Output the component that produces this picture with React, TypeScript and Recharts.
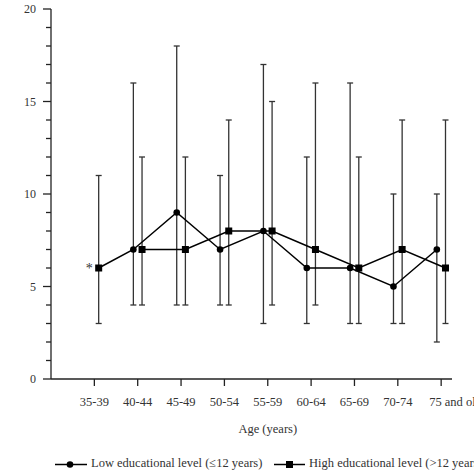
import React from 'react'
import { ScatterChart, Scatter, XAxis, YAxis, ErrorBar, ReferenceDot } from 'recharts'

// age groups, placed at positions 1..9 on a numeric x axis
const ageGroups = ['35-39', '40-44', '45-49', '50-54', '55-59', '60-64', '65-69', '70-74', '75 and older']

// low educational level (<=12 years); first point (35-39) is the starred one
const lowMean = [6, 7, 9, 7, 8, 6, 6, 5, 7]
const lowMin = [3, 4, 4, 4, 3, 3, 3, 3, 2]
const lowMax = [11, 16, 18, 11, 17, 12, 16, 10, 10]

// high educational level (>12 years), starts at 40-44
const highMean = [null, 7, 7, 8, 8, 7, 6, 7, 6]
const highMin = [null, 4, 4, 4, 4, 4, 3, 3, 3]
const highMax = [null, 12, 12, 14, 15, 16, 12, 14, 14]

const yTicks = Array.from({ length: 21 }, (_, i) => i)
const xTicks = ageGroups.map((_, i) => i + 1)

const FONT = '"Liberation Serif", "Times New Roman", serif'
const TEXT = '#333'

function build(mean: (number | null)[], min: (number | null)[], max: (number | null)[], shift: number, first: number) {
  const out: any[] = []
  mean.forEach((m, i) => {
    if (m == null) return
    out.push({
      x: i + 1 + (i === first ? 0.1 : shift),
      y: m,
      err: [m - (min[i] as number), (max[i] as number) - m],
      idx: i,
    })
  })
  return out
}

const lowData = build(lowMean, lowMin, lowMax, -0.1, 0)
const highData = build(highMean, highMin, highMax, 0.1, -1)

const Dot = ({ cx, cy, payload, square }: any) => {
  if (cx == null || cy == null) return null
  if (square || payload?.idx === 0) return <rect x={cx - 3.5} y={cy - 3.5} width={7} height={7} fill="#000" />
  return <circle cx={cx} cy={cy} r={3.3} fill="#000" />
}

const YTick = ({ x, y, payload }: any) => {
  const major = payload.value % 5 === 0
  return (
    <g>
      <line x1={x - (major ? 8 : 5)} y1={y} x2={x} y2={y} stroke="#222" strokeWidth={1.3} />
      {major && (
        <text x={x - 15} y={y} dy={4} textAnchor="end" fontSize={12} fontFamily={FONT} fill={TEXT}>
          {payload.value}
        </text>
      )}
    </g>
  )
}

const XTick = ({ x, y, payload }: any) => {
  // the long last label starts just left of its tick and runs off the edge
  const last = payload.value === ageGroups.length
  return (
    <g>
      <line x1={x} y1={y} x2={x} y2={y + 7} stroke="#222" strokeWidth={1.3} />
      <text
        x={last ? x - 12 : x}
        y={y + 27}
        textAnchor={last ? 'start' : 'middle'}
        fontSize={12.5}
        fontFamily={FONT}
        fill={TEXT}
      >
        {ageGroups[payload.value - 1]}
      </text>
    </g>
  )
}

const AxisTitle = ({ viewBox }: any) => {
  const { x, width } = viewBox
  return (
    <text x={x + (width * 5) / 9.25} y={433} textAnchor="middle" fontSize={12.5} fontFamily={FONT} fill={TEXT}>
      Age (years)
    </text>
  )
}

export default function App() {
  return (
    <div style={{ position: 'fixed', left: 0, top: 0, width: 474, height: 474, background: '#fff', overflow: 'hidden' }}>
      <ScatterChart width={474} height={474} margin={{ top: 9, right: 22, bottom: 0, left: 0 }}>
        <XAxis
          dataKey="x"
          type="number"
          domain={[0, 9.25]}
          ticks={xTicks}
          interval={0}
          tickSize={0}
          tickMargin={0}
          height={95}
          axisLine={{ stroke: '#222', strokeWidth: 1.3 }}
          tick={<XTick />}
          label={<AxisTitle />}
        />
        <YAxis
          dataKey="y"
          type="number"
          domain={[0, 20]}
          ticks={yTicks}
          interval={0}
          tickSize={0}
          tickMargin={0}
          width={51}
          axisLine={{ stroke: '#222', strokeWidth: 1.3 }}
          tick={<YTick />}
        />
        <Scatter
          data={lowData}
          fill="#000"
          line={{ stroke: '#000', strokeWidth: 1.5 }}
          shape={(p: any) => <Dot {...p} />}
          isAnimationActive={false}
        >
          <ErrorBar dataKey="err" direction="y" width={3} stroke="#333" strokeWidth={1.3} />
        </Scatter>
        <Scatter
          data={highData}
          fill="#000"
          line={{ stroke: '#000', strokeWidth: 1.5 }}
          shape={(p: any) => <Dot {...p} square />}
          isAnimationActive={false}
        >
          <ErrorBar dataKey="err" direction="y" width={3} stroke="#333" strokeWidth={1.3} />
        </Scatter>
        <ReferenceDot
          x={lowData[0].x}
          y={lowData[0].y}
          r={0}
          stroke="none"
          label={{ value: '*', position: 'left', offset: 6, fontSize: 14, fontFamily: FONT, fill: TEXT }}
        />
      </ScatterChart>
      <div
        style={{
          position: 'absolute',
          top: 456,
          left: 0,
          width: 474,
          height: 18,
          whiteSpace: 'nowrap',
          fontFamily: FONT,
          fontSize: 12.5,
          color: TEXT,
        }}
      >
        <svg width={474} height={18} style={{ position: 'absolute', left: 0, top: 0 }}>
          <line x1={55} y1={8.5} x2={87} y2={8.5} stroke="#000" strokeWidth={1.5} />
          <circle cx={70} cy={8.5} r={3.3} fill="#000" />
          <line x1={274} y1={8.5} x2={305} y2={8.5} stroke="#000" strokeWidth={1.5} />
          <rect x={286} y={5} width={7} height={7} fill="#000" />
        </svg>
        <span style={{ position: 'absolute', left: 91, top: 0 }}>Low educational level (≤12 years)</span>
        <span style={{ position: 'absolute', left: 309, top: 0 }}>High educational level (&gt;12 years)</span>
      </div>
    </div>
  )
}
